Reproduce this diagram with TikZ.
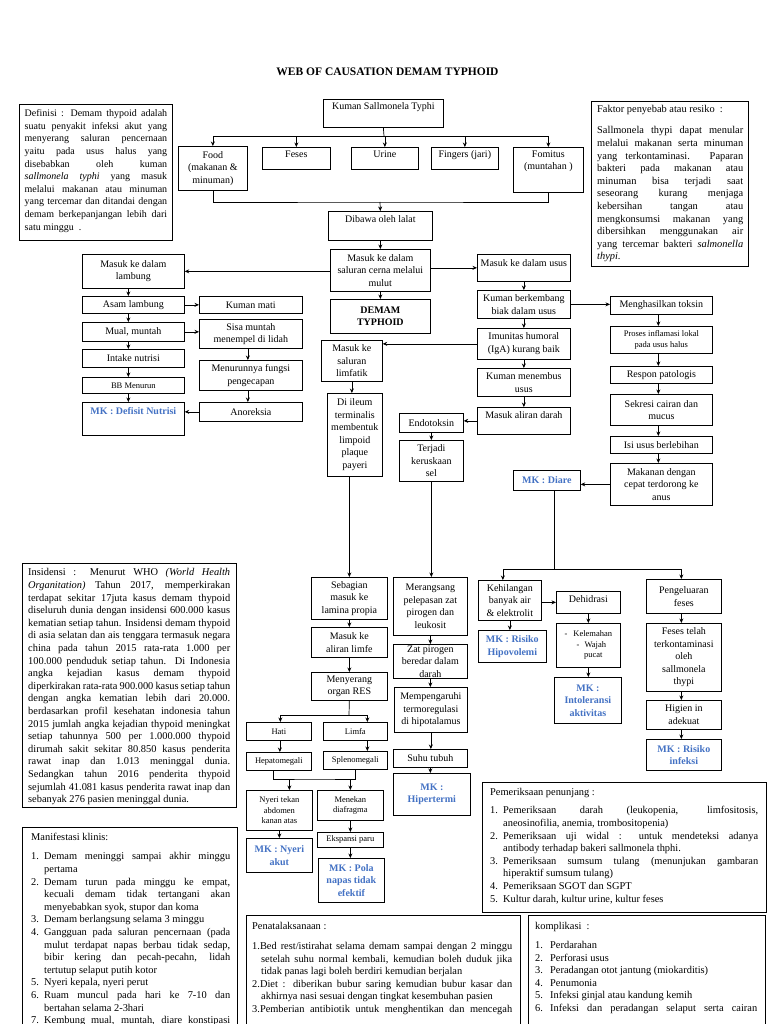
\documentclass[tikz,border=0pt]{standalone}
\usepackage{fontspec}
\setmainfont{Liberation Serif}
\usetikzlibrary{arrows.meta}
\definecolor{mkblue}{RGB}{68,114,196}
\newcommand{\fA}{\fontsize{10}{12.5}\selectfont}
\newcommand{\fS}{\fontsize{8.5}{10.5}\selectfont}
\newcommand{\fB}{\fontsize{10}{12.5}\selectfont\bfseries}
\newcommand{\fP}{\fontsize{10}{12.6}\selectfont\hbadness=10000\hfuzz=20pt}
\newcommand{\fQ}{\fontsize{10.4}{12.6}\selectfont\hbadness=10000\hfuzz=20pt}
\newcommand{\J}[1]{\hbox to \hsize{#1}}
\newcommand{\N}[1]{\hbox{#1}}
\newcommand{\nb}[2]{\makebox[#1][l]{#2}}
\newcommand{\TB}[2]{\vtop{\hsize=#1\relax #2}}
\tikzset{
 box/.style={draw=black, line width=0.7pt, anchor=north west, inner sep=1pt, align=center, font=\fA},
 sbox/.style={box, font=\fS},
 mk/.style={box, font=\fB, text=mkblue},
 lab/.style={anchor=north, inner sep=0pt, yshift=-4pt, align=center, font=\fA},
 mklab/.style={lab, font=\fB, text=mkblue},
 arr/.style={draw=black, line width=0.7pt, -{Stealth[length=4.5pt,width=4pt]}},
 ln/.style={draw=black, line width=0.7pt},
 txt/.style={anchor=north west, inner sep=0pt, font=\fP},
 txtq/.style={anchor=north west, inner sep=0pt, font=\fQ},
}
\begin{document}
\begin{tikzpicture}[x=1pt,y=-1pt]
\useasboundingbox (0,0) rectangle (768,1024);
\fill[white] (0,0) rectangle (768,1024);

\node[font=\fontsize{11.5}{13}\selectfont\bfseries] (title) at (387.5,72) {WEB OF CAUSATION DEMAM TYPHOID};

% ---------- text boxes ----------
\node[box, minimum width=153, minimum height=136] (defbox) at (19,104) {};
\node[txt] (deftxt) at (24.5,109.4) {\TB{142.5pt}{%
\J{Definisi : Demam thypoid adalah}
\J{suatu penyakit infeksi akut yang}
\J{menyerang saluran pencernaan}
\J{yaitu pada usus halus yang}
\J{disebabkan oleh kuman}
\J{\textit{sallmonela typhi} yang masuk}
\J{melalui makanan atau minuman}
\J{yang tercemar dan ditandai dengan}
\J{demam berkepanjangan lebih dari}
\N{satu minggu~~.}}};

\node[box, minimum width=157, minimum height=165] (fakbox) at (591,101) {};
\node[txtq] (faktxt) at (597,105.4) {\TB{146pt}{%
\N{Faktor penyebab atau resiko~~:}
\vskip 8.4pt
\J{Sallmonela thypi dapat menular}
\J{melalui makanan serta minuman}
\J{yang terkontaminasi. Paparan}
\J{bakteri pada makanan atau}
\J{minuman bisa terjadi saat}
\J{seseorang kurang menjaga}
\J{kebersihan tangan atau}
\J{mengkonsumsi makanan yang}
\J{dibersihkan menggunakan air}
\J{yang tercemar bakteri \textit{salmonella}}
\N{\textit{thypi.}}}};

\node[box, minimum width=214, minimum height=244] (insbox) at (22,563) {};
\node[txtq] (instxt) at (28,568.4) {\TB{202pt}{%
\J{Insidensi : Menurut WHO \textit{(World Health}}
\J{\textit{Organitation)} Tahun 2017, memperkirakan}
\J{terdapat sekitar 17juta kasus demam thypoid}
\J{diseluruh dunia dengan insidensi 600.000 kasus}
\J{kematian setiap tahun. Insidensi demam thypoid}
\J{di asia selatan dan ais tenggara termasuk negara}
\J{china pada tahun 2015 rata-rata 1.000 per}
\J{100.000 penduduk setiap tahun. Di Indonesia}
\J{angka kejadian kasus demam thypoid}
\J{diperkirakan rata-rata 900.000 kasus setiap tahun}
\J{dengan angka kematian lebih dari 20.000.}
\J{berdasarkan profil kesehatan indonesia tahun}
\J{2015 jumlah angka kejadian thypoid meningkat}
\J{setiap tahunnya 500 per 1.000.000 thypoid}
\J{dirumah sakit sekitar 80.850 kasus penderita}
\J{rawat inap dan 1.013 meninggal dunia.}
\J{Sedangkan tahun 2016 penderita thypoid}
\J{sejumlah 41.081 kasus penderita rawat inap dan}
\N{sebanyak 276 pasien meninggal dunia.}}};

\node[box, minimum width=215, minimum height=220] (manbox) at (22,827) {};
\node[txtq] (mantxt) at (31,833.4) {\TB{199pt}{%
\N{Manifestasi klinis:}
\vskip 6.4pt
\J{\nb{13pt}{1.}Demam meninggi sampai akhir minggu}
\N{\hspace*{13pt}pertama}
\J{\nb{13pt}{2.}Demam turun pada minggu ke empat,}
\J{\hspace*{13pt}kecuali demam tidak tertangani akan}
\N{\hspace*{13pt}menyebabkan syok, stupor dan koma}
\N{\nb{13pt}{3.}Demam berlangsung selama 3 minggu}
\J{\nb{13pt}{4.}Gangguan pada saluran pencernaan (pada}
\J{\hspace*{13pt}mulut terdapat napas berbau tidak sedap,}
\J{\hspace*{13pt}bibir kering dan pecah-pecahn, lidah}
\N{\hspace*{13pt}tertutup selaput putih kotor}
\N{\nb{13pt}{5.}Nyeri kepala, nyeri perut}
\J{\nb{13pt}{6.}Ruam muncul pada hari ke 7-10 dan}
\N{\hspace*{13pt}bertahan selama 2-3hari}
\J{\nb{13pt}{7.}Kembung mual, muntah, diare konstipasi}}};

\node[box, minimum width=284, minimum height=130] (pembox) at (482,782) {};
\node[txtq] (pemtxt) at (490,788.4) {\TB{268pt}{%
\N{Pemeriksaan penunjang :}
\vskip 5.5pt
\J{\nb{13pt}{1.}Pemeriksaan darah (leukopenia, limfositosis,}
\N{\hspace*{13pt}aneosinofilia, anemia, trombositopenia)}
\J{\nb{13pt}{2.}Pemeriksaan uji widal : untuk mendeteksi adanya}
\N{\hspace*{13pt}antibody terhadap bakeri sallmonela thphi.}
\J{\nb{13pt}{3.}Pemeriksaan sumsum tulang (menunjukan gambaran}
\N{\hspace*{13pt}hiperaktif sumsum tulang)}
\N{\nb{13pt}{4.}Pemeriksaan SGOT dan SGPT}
\N{\nb{13pt}{5.}Kultur darah, kultur urine, kultur feses}}};

\node[box, minimum width=274, minimum height=130] (penbox) at (246,915) {};
\node[txtq] (pentxt) at (252,922) {\TB{260pt}{%
\N{Penatalaksanaan :}
\vskip 7.4pt
\J{1.Bed rest/istirahat selama demam sampai dengan 2 minggu}
\J{\hspace*{9pt}setelah suhu normal kembali, kemudian boleh duduk jika}
\N{\hspace*{9pt}tidak panas lagi boleh berdiri kemudian berjalan}
\J{2.Diet : diberikan bubur saring kemudian bubur kasar dan}
\N{\hspace*{9pt}akhirnya nasi sesuai dengan tingkat kesembuhan pasien}
\J{3.Pemberian antibiotik untuk menghentikan dan mencegah}}};

\node[box, minimum width=237, minimum height=130] (kompbox) at (528,915) {};
\node[txtq] (komptxt) at (535,922) {\TB{222pt}{%
\N{komplikasi~~:}
\vskip 6.4pt
\N{\nb{15pt}{1.}Perdarahan}
\N{\nb{15pt}{2.}Perforasi usus}
\N{\nb{15pt}{3.}Peradangan otot jantung (miokarditis)}
\N{\nb{15pt}{4.}Penumonia}
\N{\nb{15pt}{5.}Infeksi ginjal atau kandung kemih}
\J{\nb{15pt}{6.}Infeksi dan peradangan selaput serta cairan}}};

% ---------- top ----------
\node[box, minimum width=120, minimum height=28, label={[lab, yshift=0.6pt]north:{Kuman Sallmonela Typhi}}] (kuman) at (323,99) {};
\node[box, minimum width=69, minimum height=44] (food) at (178,146) {Food\\(makanan \&\\minuman)};
\node[box, minimum width=68, minimum height=22, label={[lab, yshift=0.6pt]north:{Feses}}] (feses) at (262,147) {};
\node[box, minimum width=67, minimum height=22, label={[lab, yshift=0.6pt]north:{Urine}}] (urine) at (351,147) {};
\node[box, minimum width=67, minimum height=22, label={[lab, yshift=0.6pt]north:{Fingers (jari)}}] (fingers) at (431,147) {};
\node[box, minimum width=70, minimum height=45, label={[lab, yshift=0.6pt]north:{Fomitus\\(muntahan )}}] (fomitus) at (513,147) {};
\node[box, minimum width=104, minimum height=29, label={[lab, yshift=-0.4pt]north:{Dibawa oleh lalat}}] (dibawa) at (328,211) {};
\node[box, minimum width=100, minimum height=42] (saluran) at (330,249) {Masuk ke dalam\\saluran cerna melalui\\mulut};
\node[box, minimum width=100, minimum height=34, font=\fB] (demam) at (330,299) {DEMAM\\TYPHOID};

% ---------- left ----------
\node[box, minimum width=102, minimum height=34] (lambung) at (82,254) {Masuk ke dalam\\lambung};
\node[box, minimum width=102, minimum height=17] (asam) at (82,296) {Asam lambung};
\node[box, minimum width=103, minimum height=17] (kmati) at (199,296) {Kuman mati};
\node[box, minimum width=102, minimum height=19] (mual) at (82,322) {Mual, muntah};
\node[box, minimum width=103, minimum height=29] (sisa) at (199,319) {Sisa muntah\\menempel di lidah};
\node[box, minimum width=102, minimum height=18] (intake) at (82,349) {Intake nutrisi};
\node[box, minimum width=103, minimum height=30] (fungsi) at (199,360) {Menurunnya fungsi\\pengecapan};
\node[sbox, minimum width=102, minimum height=16] (bb) at (82,377) {BB Menurun};
\node[box, minimum width=102, minimum height=33, label={[mklab, yshift=-1.4pt]north:{MK : Defisit Nutrisi}}] (defisit) at (82,402) {};
\node[box, minimum width=103, minimum height=19] (anoreksia) at (199,402) {Anoreksia};

% ---------- usus ----------
\node[box, minimum width=93, minimum height=27, label={[lab, yshift=-1.4pt]north:{Masuk ke dalam usus}}] (usus) at (477,254) {};
\node[box, minimum width=93, minimum height=28] (kembang) at (477,290) {Kuman berkembang\\biak dalam usus};
\node[box, minimum width=93, minimum height=31] (imun) at (477,328) {Imunitas humoral\\(IgA) kurang baik};
\node[box, minimum width=93, minimum height=28] (tembus) at (477,368) {Kuman menembus\\usus};
\node[box, minimum width=93, minimum height=27, label={[lab, yshift=-0.4pt]north:{Masuk aliran darah}}] (aliran) at (477,407) {};
\node[box, minimum width=102, minimum height=18] (toksin) at (610,296) {Menghasilkan toksin};
\node[sbox, minimum width=102, minimum height=27] (inflamasi) at (610,326) {Proses inflamasi lokal\\pada usus halus};
\node[box, minimum width=102, minimum height=17] (respon) at (610,366) {Respon patologis};
\node[box, minimum width=102, minimum height=31] (sekresi) at (610,394) {Sekresi cairan dan\\mucus};
\node[box, minimum width=102, minimum height=17] (isi) at (610,436) {Isi usus berlebihan};
\node[box, minimum width=102, minimum height=42] (makanan) at (610,463) {Makanan dengan\\cepat terdorong ke\\anus};
\node[mk, minimum width=67, minimum height=20] (diare) at (513,470) {MK : Diare};

% ---------- middle ----------
\node[box, minimum width=61, minimum height=41] (limfatik) at (321,340) {Masuk ke\\saluran\\limfatik};
\node[box, minimum width=55, minimum height=83] (ileum) at (327,393) {Di ileum\\terminalis\\membentuk\\limpoid\\plaque\\payeri};
\node[box, minimum width=64, minimum height=19] (endo) at (399,413) {Endotoksin};
\node[box, minimum width=64, minimum height=41] (terjadi) at (399,440) {Terjadi\\keruskaan\\sel};

% ---------- lower centre ----------
\node[box, minimum width=76, minimum height=42] (sebagian) at (311,577) {Sebagian\\masuk ke\\lamina propia};
\node[box, minimum width=76, minimum height=30] (limfe) at (311,627) {Masuk ke\\aliran limfe};
\node[box, minimum width=76, minimum height=28] (res) at (311,672) {Menyerang\\organ RES};
\node[sbox, minimum width=65, minimum height=18] (hati) at (246,722) {Hati};
\node[sbox, minimum width=64, minimum height=18] (limfa) at (323,722) {Limfa};
\node[sbox, minimum width=65, minimum height=18] (hepato) at (246,752) {Hepatomegali};
\node[sbox, minimum width=64, minimum height=18] (spleno) at (323,751) {Splenomegali};
\node[sbox, minimum width=66, minimum height=40] (nyeri) at (246,790) {Nyeri tekan\\abdomen\\kanan atas};
\node[sbox, minimum width=66, minimum height=30] (menekan) at (317,790) {Menekan\\diafragma};
\node[sbox, minimum width=66, minimum height=15] (ekspansi) at (317,832) {Ekspansi paru};
\node[mk, minimum width=66, minimum height=34] (mknyeri) at (246,838) {MK : Nyeri\\akut};
\node[mk, minimum width=66, minimum height=44] (pola) at (318,858) {MK : Pola\\napas tidak\\efektif};
\node[box, minimum width=74, minimum height=58] (merangsang) at (393,577) {Merangsang\\pelepasan zat\\pirogen dan\\leukosit};
\node[box, minimum width=74, minimum height=34] (pirogen) at (393,644) {Zat pirogen\\beredar dalam\\darah};
\node[box, minimum width=73, minimum height=45] (mempengaruhi) at (394,687) {Mempengaruhi\\termoregulasi\\di hipotalamus};
\node[box, minimum width=74, minimum height=18] (suhu) at (393,749) {Suhu tubuh};
\node[mk, minimum width=77, minimum height=42] (hipertermi) at (393,773) {MK :\\Hipertermi};

% ---------- right lower ----------
\node[box, minimum width=63, minimum height=40] (kehilangan) at (478,580) {Kehilangan\\banyak air\\\& elektrolit};
\node[box, minimum width=64, minimum height=22, label={[lab, yshift=-0.4pt]north:{Dehidrasi}}] (dehidrasi) at (556,591) {};
\node[mk, minimum width=68, minimum height=32] (hipo) at (478,630) {MK : Risiko\\Hipovolemi};
\node[sbox, minimum width=64, minimum height=44] (kelemahan) at (556,623) {-\hspace{6pt}Kelemahan\\\hspace{6pt}-\hspace{5pt}Wajah\\\hspace{10pt}pucat};
\node[mk, minimum width=67, minimum height=46] (intoleransi) at (554,677) {MK :\\Intoleransi\\aktivitas};
\node[box, minimum width=75, minimum height=34] (pengeluaran) at (646,579) {Pengeluaran\\feses};
\node[box, minimum width=75, minimum height=68] (fesestelah) at (646,623) {Feses telah\\terkontaminasi\\oleh\\sallmonela\\thypi};
\node[box, minimum width=75, minimum height=29] (higien) at (646,700) {Higien in\\adekuat};
\node[mk, minimum width=75, minimum height=31] (infeksi) at (646,739) {MK : Risiko\\infeksi};

% ---------- connectors ----------
\coordinate (b1) at (384,136);
\draw[ln] (kuman.south) -- (b1);
\draw[arr] (b1) -| (food.north);
\draw[arr] (b1) -| (feses.north);
\draw[arr] (b1) -| (urine.north);
\draw[arr] (b1) -| (fingers.north);
\draw[arr] (b1) -| (fomitus.north);
\coordinate (b2) at (380,202);
\draw[ln] (food.south) |- (b2) -| (fomitus.south);
\draw[arr] (b2) -- (dibawa.north);
\draw[arr] (dibawa.south) -- (saluran.north);
\draw[arr] (saluran.south) -- (demam.north);
\draw[arr] (saluran.west |- lambung.east) -- (lambung.east);
\draw[arr] (saluran.east |- usus.west) -- (usus.west);

\draw[arr] ([xshift=-5pt]lambung.south) -- ([xshift=-5pt]asam.north);
\draw[arr] ([xshift=-5pt]asam.south) -- ([xshift=-5pt]mual.north);
\draw[arr] ([xshift=-5pt]mual.south) -- ([xshift=-5pt]intake.north);
\draw[arr] ([xshift=-5pt]intake.south) -- ([xshift=-5pt]bb.north);
\draw[arr] ([xshift=-5pt]bb.south) -- ([xshift=-5pt]defisit.north);
\draw[arr] (asam.east) -- (asam.east -| kmati.west);
\draw[arr] (mual.east) -- (mual.east -| sisa.west);
\draw[arr] ([xshift=-3pt]sisa.south) -- ([xshift=-3pt]fungsi.north);
\draw[arr] ([xshift=-3pt]fungsi.south) -- ([xshift=-3pt]anoreksia.north);
\draw[arr] (anoreksia.west) -- (anoreksia.west -| defisit.east);

\draw[arr] (usus.south) -- (kembang.north);
\draw[arr] (kembang.south) -- (imun.north);
\draw[arr] (imun.south) -- (tembus.north);
\draw[arr] (tembus.south) -- (aliran.north);
\draw[arr] (kembang.east) -- (kembang.east -| toksin.west);
\draw[arr] (imun.west) -- (imun.west -| limfatik.east);
\draw[arr] (limfatik.south) -- (limfatik.south |- ileum.north);
\draw[arr] (ileum.south -| sebagian.north) -- (sebagian.north);
\draw[arr] (aliran.west) -- (aliran.west -| endo.east);
\draw[arr] (endo.south) -- (endo.south |- terjadi.north);
\draw[arr] (terjadi.south) -- (terjadi.south |- merangsang.north);

\draw[arr] ([xshift=-3pt]toksin.south) -- ([xshift=-3pt]inflamasi.north);
\draw[arr] ([xshift=-3pt]inflamasi.south) -- ([xshift=-3pt]respon.north);
\draw[arr] ([xshift=-3pt]respon.south) -- ([xshift=-3pt]sekresi.north);
\draw[arr] ([xshift=-3pt]sekresi.south) -- ([xshift=-3pt]isi.north);
\draw[arr] ([xshift=-3pt]isi.south) -- ([xshift=-3pt]makanan.north);
\draw[arr] (makanan.west) -- (makanan.west -| diare.east);
\coordinate (b3) at (554,569);
\draw[ln] (diare.south -| b3) -- (b3);
\draw[arr] (b3) -| ([xshift=-7pt]kehilangan.north);
\draw[arr] (b3) -| ([xshift=-2.5pt]pengeluaran.north);
\draw[arr] (kehilangan.east |- dehidrasi.west) -- (dehidrasi.west);
\draw[arr] (kehilangan.south) -- (kehilangan.south |- hipo.north);
\draw[arr] (dehidrasi.south) -- (dehidrasi.south |- kelemahan.north);
\draw[arr] (kelemahan.south) -- (kelemahan.south |- intoleransi.north);
\draw[arr] ([xshift=-2.5pt]pengeluaran.south) -- ([xshift=-2.5pt]fesestelah.north);
\draw[arr] ([xshift=-2.5pt]fesestelah.south) -- ([xshift=-2.5pt]higien.north);
\draw[arr] ([xshift=-2.5pt]higien.south) -- ([xshift=-2.5pt]infeksi.north);

\draw[arr] (sebagian.south) -- (limfe.north);
\draw[arr] (limfe.south) -- (res.north);
\coordinate (b4) at (349,715);
\draw[ln] (res.south) -- (b4);
\draw[arr] (b4) -| ([xshift=1.5pt]hati.north);
\draw[arr] (b4) -| ([xshift=12pt]limfa.north);
\draw[arr] ([xshift=1pt]hati.south) -- ([xshift=1pt]hepato.north);
\draw[arr] ([xshift=12pt]limfa.south) -- ([xshift=12pt]spleno.north);
\coordinate (b5) at (315,779);
\draw[ln] ([xshift=-5.5pt]hepato.south) |- (b5) -| (spleno.south);
\draw[arr] ([xshift=10pt]nyeri.north |- b5) -- ([xshift=10pt]nyeri.north);
\draw[arr] (menekan.north |- b5) -- (menekan.north);
\draw[arr] (menekan.south) -- (menekan.south |- ekspansi.north);
\draw[arr] (ekspansi.south) -- (ekspansi.south |- pola.north);
\draw[arr] (nyeri.south) -- (nyeri.south |- mknyeri.north);

\draw[arr] (merangsang.south) -- (merangsang.south |- pirogen.north);
\draw[arr] (pirogen.south) -- (pirogen.south |- mempengaruhi.north);
\draw[arr] (mempengaruhi.south) -- (mempengaruhi.south |- suhu.north);
\draw[arr] (suhu.south) -- (suhu.south |- hipertermi.north);
\end{tikzpicture}
\end{document}
